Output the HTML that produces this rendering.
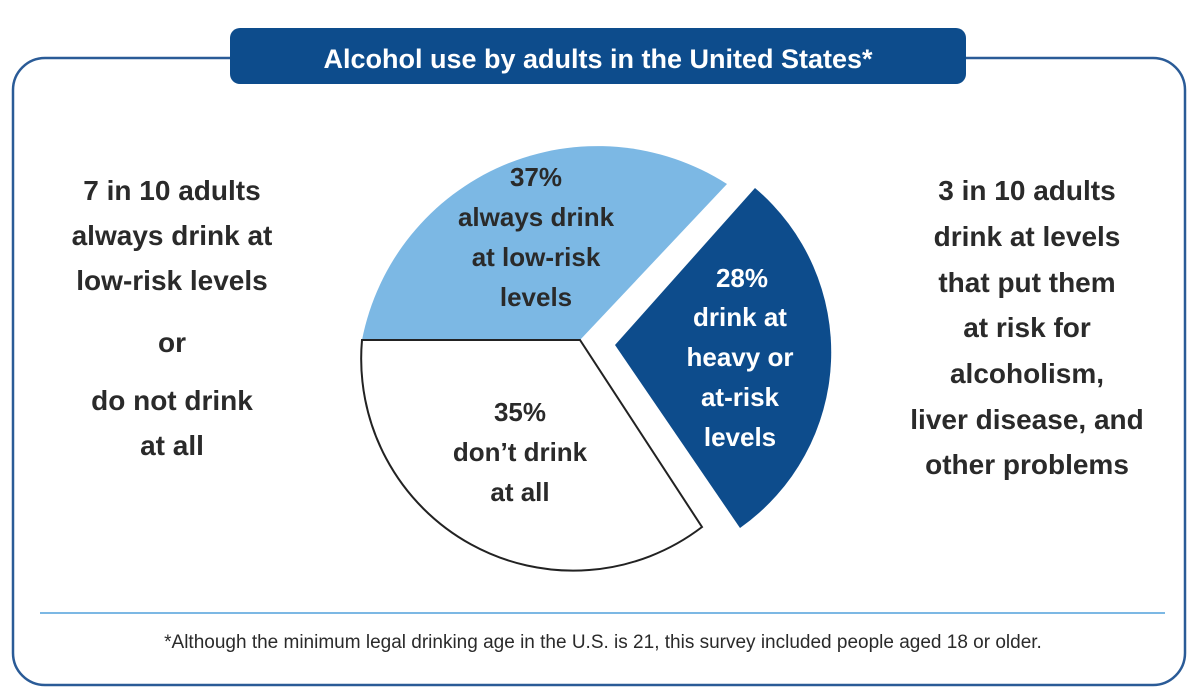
<!DOCTYPE html>
<html><head><meta charset="utf-8"><style>
html,body{margin:0;padding:0;background:#fff;}
svg{display:block;font-family:"Liberation Sans",Arial,sans-serif;font-weight:bold;}
</style></head><body>
<svg width="1200" height="699" viewBox="0 0 1200 699">
<rect x="13" y="58" width="1172" height="627" rx="32" fill="#fff" stroke="#2a5b97" stroke-width="2.5"/>
<rect x="230" y="28" width="736" height="56" rx="10" fill="#0d4c8c"/>
<text x="598" y="68" text-anchor="middle" fill="#fff" font-size="27">Alcohol use by adults in the United States*</text>

<path d="M580,340 L362,340 A240,240 0 0 1 727,184 Z" fill="#7cb8e4"/>
<path d="M580,340 L362,340 A212,212 0 0 0 702,527 Z" fill="#fff" stroke="#222" stroke-width="2"/>
<path d="M615,345 L755,188 A215,215 0 0 1 740,528 Z" fill="#0d4c8c"/>

<g fill="#2a2a2a" font-size="26" text-anchor="middle">
<text x="536" y="186">37%</text>
<text x="536" y="226">always drink</text>
<text x="536" y="266">at low-risk</text>
<text x="536" y="306">levels</text>
<text x="520" y="421">35%</text>
<text x="520" y="461">don’t drink</text>
<text x="520" y="501">at all</text>
</g>
<g fill="#fff" font-size="26" text-anchor="middle">
<text x="742" y="287">28%</text>
<text x="740" y="326">drink at</text>
<text x="740" y="366">heavy or</text>
<text x="740" y="406">at-risk</text>
<text x="740" y="446">levels</text>
</g>
<g fill="#2a2a2a" font-size="28" text-anchor="middle">
<text x="172" y="200">7 in 10 adults</text>
<text x="172" y="245">always drink at</text>
<text x="172" y="290">low-risk levels</text>
<text x="172" y="352">or</text>
<text x="172" y="410">do not drink</text>
<text x="172" y="455">at all</text>
<text x="1027" y="200">3 in 10 adults</text>
<text x="1027" y="246">drink at levels</text>
<text x="1027" y="292">that put them</text>
<text x="1027" y="337">at risk for</text>
<text x="1027" y="383">alcoholism,</text>
<text x="1027" y="429">liver disease, and</text>
<text x="1027" y="474">other problems</text>
</g>
<line x1="40" y1="613" x2="1165" y2="613" stroke="#7cb8e4" stroke-width="2"/>
<text x="603" y="648" text-anchor="middle" fill="#2a2a2a" font-size="19" font-weight="normal">*Although the minimum legal drinking age in the U.S. is 21, this survey included people aged 18 or older.</text>
</svg>
</body></html>
